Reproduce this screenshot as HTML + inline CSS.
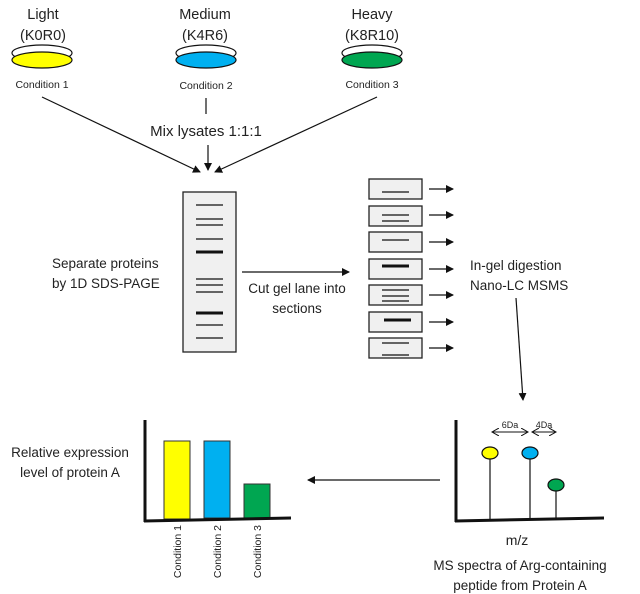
<!DOCTYPE html>
<html><head><meta charset="utf-8"><style>body{margin:0;background:#fff}svg{display:block}text{font-family:"Liberation Sans",sans-serif;fill:#222}</style></head><body>
<svg width="640" height="594" viewBox="0 0 640 594" xmlns="http://www.w3.org/2000/svg">
<defs><marker id="a" markerWidth="8" markerHeight="8" refX="7" refY="4" orient="auto" markerUnits="userSpaceOnUse"><path d="M0,0 L8,4 L0,8 z" fill="#111"/></marker>
<marker id="o" markerWidth="8" markerHeight="8" refX="7" refY="4" orient="auto-start-reverse" markerUnits="userSpaceOnUse"><path d="M0,0 L7,4 L0,8" fill="none" stroke="#111"/></marker></defs>
<g font-size="14.5" text-anchor="middle">
<text x="43" y="19">Light</text><text x="43" y="40">(K0R0)</text>
<text x="205" y="19">Medium</text><text x="205" y="40">(K4R6)</text>
<text x="372" y="19">Heavy</text><text x="372" y="40">(K8R10)</text>
</g>
<g stroke="#111" stroke-width="1.2">
<ellipse cx="42" cy="53" rx="30" ry="8" fill="#fff"/><ellipse cx="42" cy="60" rx="30" ry="8" fill="#ffff00"/>
<ellipse cx="206" cy="53" rx="30" ry="8" fill="#fff"/><ellipse cx="206" cy="60" rx="30" ry="8" fill="#00b0f0"/>
<ellipse cx="372" cy="53" rx="30" ry="8" fill="#fff"/><ellipse cx="372" cy="60" rx="30" ry="8" fill="#00a651"/>
</g>
<g font-size="10.5" text-anchor="middle"><text x="42" y="88">Condition 1</text><text x="206" y="89">Condition 2</text><text x="372" y="88">Condition 3</text></g>
<g stroke="#111" stroke-width="1.2" fill="none">
<line x1="42" y1="97" x2="200" y2="172" marker-end="url(#a)"/>
<line x1="206" y1="98" x2="206" y2="114"/>
<line x1="208" y1="145" x2="208" y2="170" marker-end="url(#a)"/>
<line x1="377" y1="97" x2="215" y2="172" marker-end="url(#a)"/>
</g>
<text x="206" y="136" font-size="15" text-anchor="middle">Mix lysates 1:1:1</text>
<rect x="183" y="192" width="53" height="160" fill="#f0f0f0" stroke="#222" stroke-width="1.3"/>
<g stroke="#111" stroke-width="1.3">
<line x1="196" y1="205" x2="223" y2="205"/><line x1="196" y1="219" x2="223" y2="219"/><line x1="196" y1="225" x2="223" y2="225"/><line x1="196" y1="239" x2="223" y2="239"/><line x1="196" y1="252" x2="223" y2="252" stroke-width="3"/><line x1="196" y1="279" x2="223" y2="279"/><line x1="196" y1="285" x2="223" y2="285"/><line x1="196" y1="292" x2="223" y2="292"/><line x1="196" y1="313" x2="223" y2="313" stroke-width="3"/><line x1="196" y1="325" x2="223" y2="325"/><line x1="196" y1="338" x2="223" y2="338"/>
</g>
<line x1="242" y1="272" x2="349" y2="272" stroke="#111" stroke-width="1.2" marker-end="url(#a)"/>
<g font-size="13.5" text-anchor="middle"><text x="297" y="293">Cut gel lane into</text><text x="297" y="313">sections</text></g>
<g font-size="13.5"><text x="52" y="268">Separate proteins</text><text x="52" y="288">by 1D SDS-PAGE</text>
<text x="470" y="270">In-gel digestion</text><text x="470" y="290">Nano-LC MSMS</text></g>
<g fill="#f0f0f0" stroke="#222" stroke-width="1.3">
<rect x="369" y="179" width="53" height="20"/><rect x="369" y="206" width="53" height="20"/><rect x="369" y="232" width="53" height="20"/><rect x="369" y="259" width="53" height="20"/><rect x="369" y="285" width="53" height="20"/><rect x="369" y="312" width="53" height="20"/><rect x="369" y="338" width="53" height="20"/>
</g>
<g stroke="#111" stroke-width="1.2">
<line x1="382" y1="192" x2="409" y2="192"/>
<line x1="382" y1="215" x2="409" y2="215"/><line x1="382" y1="221" x2="409" y2="221"/>
<line x1="382" y1="240" x2="409" y2="240"/>
<line x1="382" y1="266" x2="409" y2="266" stroke-width="3"/>
<line x1="382" y1="290" x2="409" y2="290"/><line x1="382" y1="296" x2="409" y2="296"/><line x1="382" y1="301" x2="409" y2="301"/>
<line x1="384" y1="320" x2="411" y2="320" stroke-width="3"/>
<line x1="382" y1="343" x2="409" y2="343"/><line x1="382" y1="355" x2="409" y2="355"/>
</g>
<g stroke="#111" stroke-width="1.2">
<line x1="429" y1="189" x2="453" y2="189" marker-end="url(#a)"/><line x1="429" y1="215" x2="453" y2="215" marker-end="url(#a)"/><line x1="429" y1="242" x2="453" y2="242" marker-end="url(#a)"/><line x1="429" y1="269" x2="453" y2="269" marker-end="url(#a)"/><line x1="429" y1="295" x2="453" y2="295" marker-end="url(#a)"/><line x1="429" y1="322" x2="453" y2="322" marker-end="url(#a)"/><line x1="429" y1="348" x2="453" y2="348" marker-end="url(#a)"/>
<line x1="516" y1="298" x2="523" y2="400" marker-end="url(#a)"/>
<line x1="440" y1="480" x2="308" y2="480" marker-end="url(#a)"/>
</g>
<g stroke="#111">
<line x1="456" y1="420" x2="456" y2="522" stroke-width="3"/><line x1="455" y1="521" x2="604" y2="518" stroke-width="3"/>
<line x1="490" y1="455" x2="490" y2="520" stroke-width="1.2"/><line x1="530" y1="455" x2="530" y2="520" stroke-width="1.2"/><line x1="556" y1="486" x2="556" y2="520" stroke-width="1.2"/>
<ellipse cx="490" cy="453" rx="8" ry="6" fill="#ffff00" stroke-width="1.2"/><ellipse cx="530" cy="453" rx="8" ry="6" fill="#00b0f0" stroke-width="1.2"/><ellipse cx="556" cy="485" rx="8" ry="6" fill="#00a651" stroke-width="1.2"/>
<line x1="492" y1="432" x2="528" y2="432" stroke-width="1" marker-start="url(#o)" marker-end="url(#o)"/>
<line x1="532" y1="432" x2="556" y2="432" stroke-width="1" marker-start="url(#o)" marker-end="url(#o)"/>
</g>
<g font-size="9" text-anchor="middle"><text x="510" y="428">6Da</text><text x="544" y="428">4Da</text></g>
<text x="517" y="545" font-size="14" text-anchor="middle">m/z</text>
<g font-size="13.5" text-anchor="middle"><text x="520" y="570">MS spectra of Arg-containing</text><text x="520" y="590">peptide from Protein A</text>
<text x="70" y="457">Relative expression</text><text x="70" y="477">level of protein A</text></g>
<g stroke="#333" stroke-width="1">
<rect x="164" y="441" width="26" height="78" fill="#ffff00"/><rect x="204" y="441" width="26" height="77" fill="#00b0f0"/><rect x="244" y="484" width="26" height="34" fill="#00a651"/>
</g>
<g stroke="#111" stroke-width="3"><line x1="145" y1="420" x2="145" y2="522"/><line x1="144" y1="521" x2="291" y2="518"/></g>
<g font-size="10.5" text-anchor="end">
<text transform="translate(181,525) rotate(-90)">Condition 1</text><text transform="translate(221,525) rotate(-90)">Condition 2</text><text transform="translate(261,525) rotate(-90)">Condition 3</text>
</g>
</svg>
</body></html>
